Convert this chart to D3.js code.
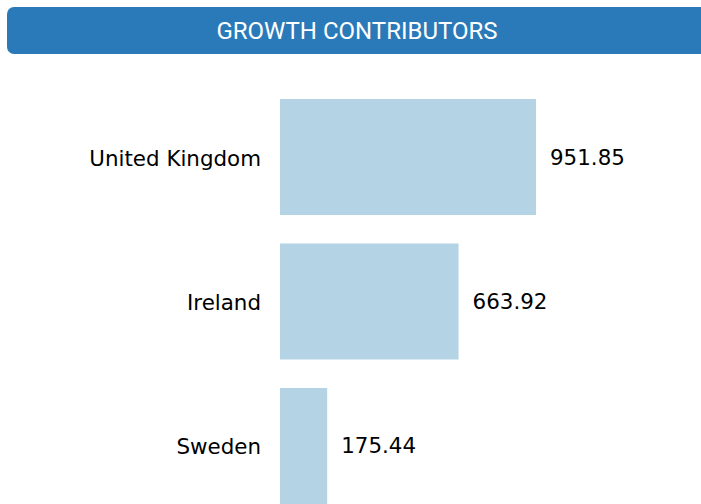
<!DOCTYPE html>
<html>
<head>
<meta charset="utf-8">
<script src="https://cdn.jsdelivr.net/npm/d3@7"></script>
<style>
  html, body { margin: 0; padding: 0; background: #fff; }
  svg { display: block; }
</style>
</head>
<body>
<script>
// Growth contributors by country
const countries = ["United Kingdom", "Ireland", "Sweden"];
const growth = [951.85, 663.92, 175.44];
const title = "GROWTH CONTRIBUTORS";

const width = 701, height = 504;
const svg = d3.select("body").append("svg")
  .attr("width", width).attr("height", height);

// Header banner
svg.append("rect")
  .attr("x", 7).attr("y", 7)
  .attr("width", 700).attr("height", 47)
  .attr("rx", 7).attr("ry", 7)
  .attr("fill", "#2a7ab9");
svg.append("text")
  .attr("x", 357).attr("y", 31)
  .attr("text-anchor", "middle")
  .attr("dominant-baseline", "central")
  .attr("font-family", "Roboto, sans-serif")
  .attr("font-size", 24)
  .attr("fill", "#fff")
  .text(title);

// Scales
const x = d3.scaleLinear().domain([0, d3.max(growth)]).range([280, 536]);
const y = d3.scaleBand().domain(countries).range([99, 504]).paddingInner(0.197).paddingOuter(0);

const rows = svg.append("g").selectAll("g")
  .data(countries.map((c, i) => ({ c, v: growth[i] })))
  .join("g");

rows.append("rect")
  .attr("x", x(0))
  .attr("y", d => y(d.c))
  .attr("width", d => x(d.v) - x(0))
  .attr("height", y.bandwidth())
  .attr("fill", "#b4d4e6");

rows.append("text")
  .attr("x", 261)
  .attr("y", d => y(d.c) + y.bandwidth() / 2 + 1)
  .attr("text-anchor", "end")
  .attr("dominant-baseline", "central")
  .attr("font-family", "DejaVu Sans, sans-serif")
  .attr("font-size", 21.4)
  .attr("fill", "#000")
  .text(d => d.c);

rows.append("text")
  .attr("x", d => x(d.v) + 14)
  .attr("y", d => y(d.c) + y.bandwidth() / 2)
  .attr("dominant-baseline", "central")
  .attr("font-family", "DejaVu Sans, sans-serif")
  .attr("font-size", 21.4)
  .attr("fill", "#000")
  .text(d => d.v.toFixed(2));
</script>
</body>
</html>
